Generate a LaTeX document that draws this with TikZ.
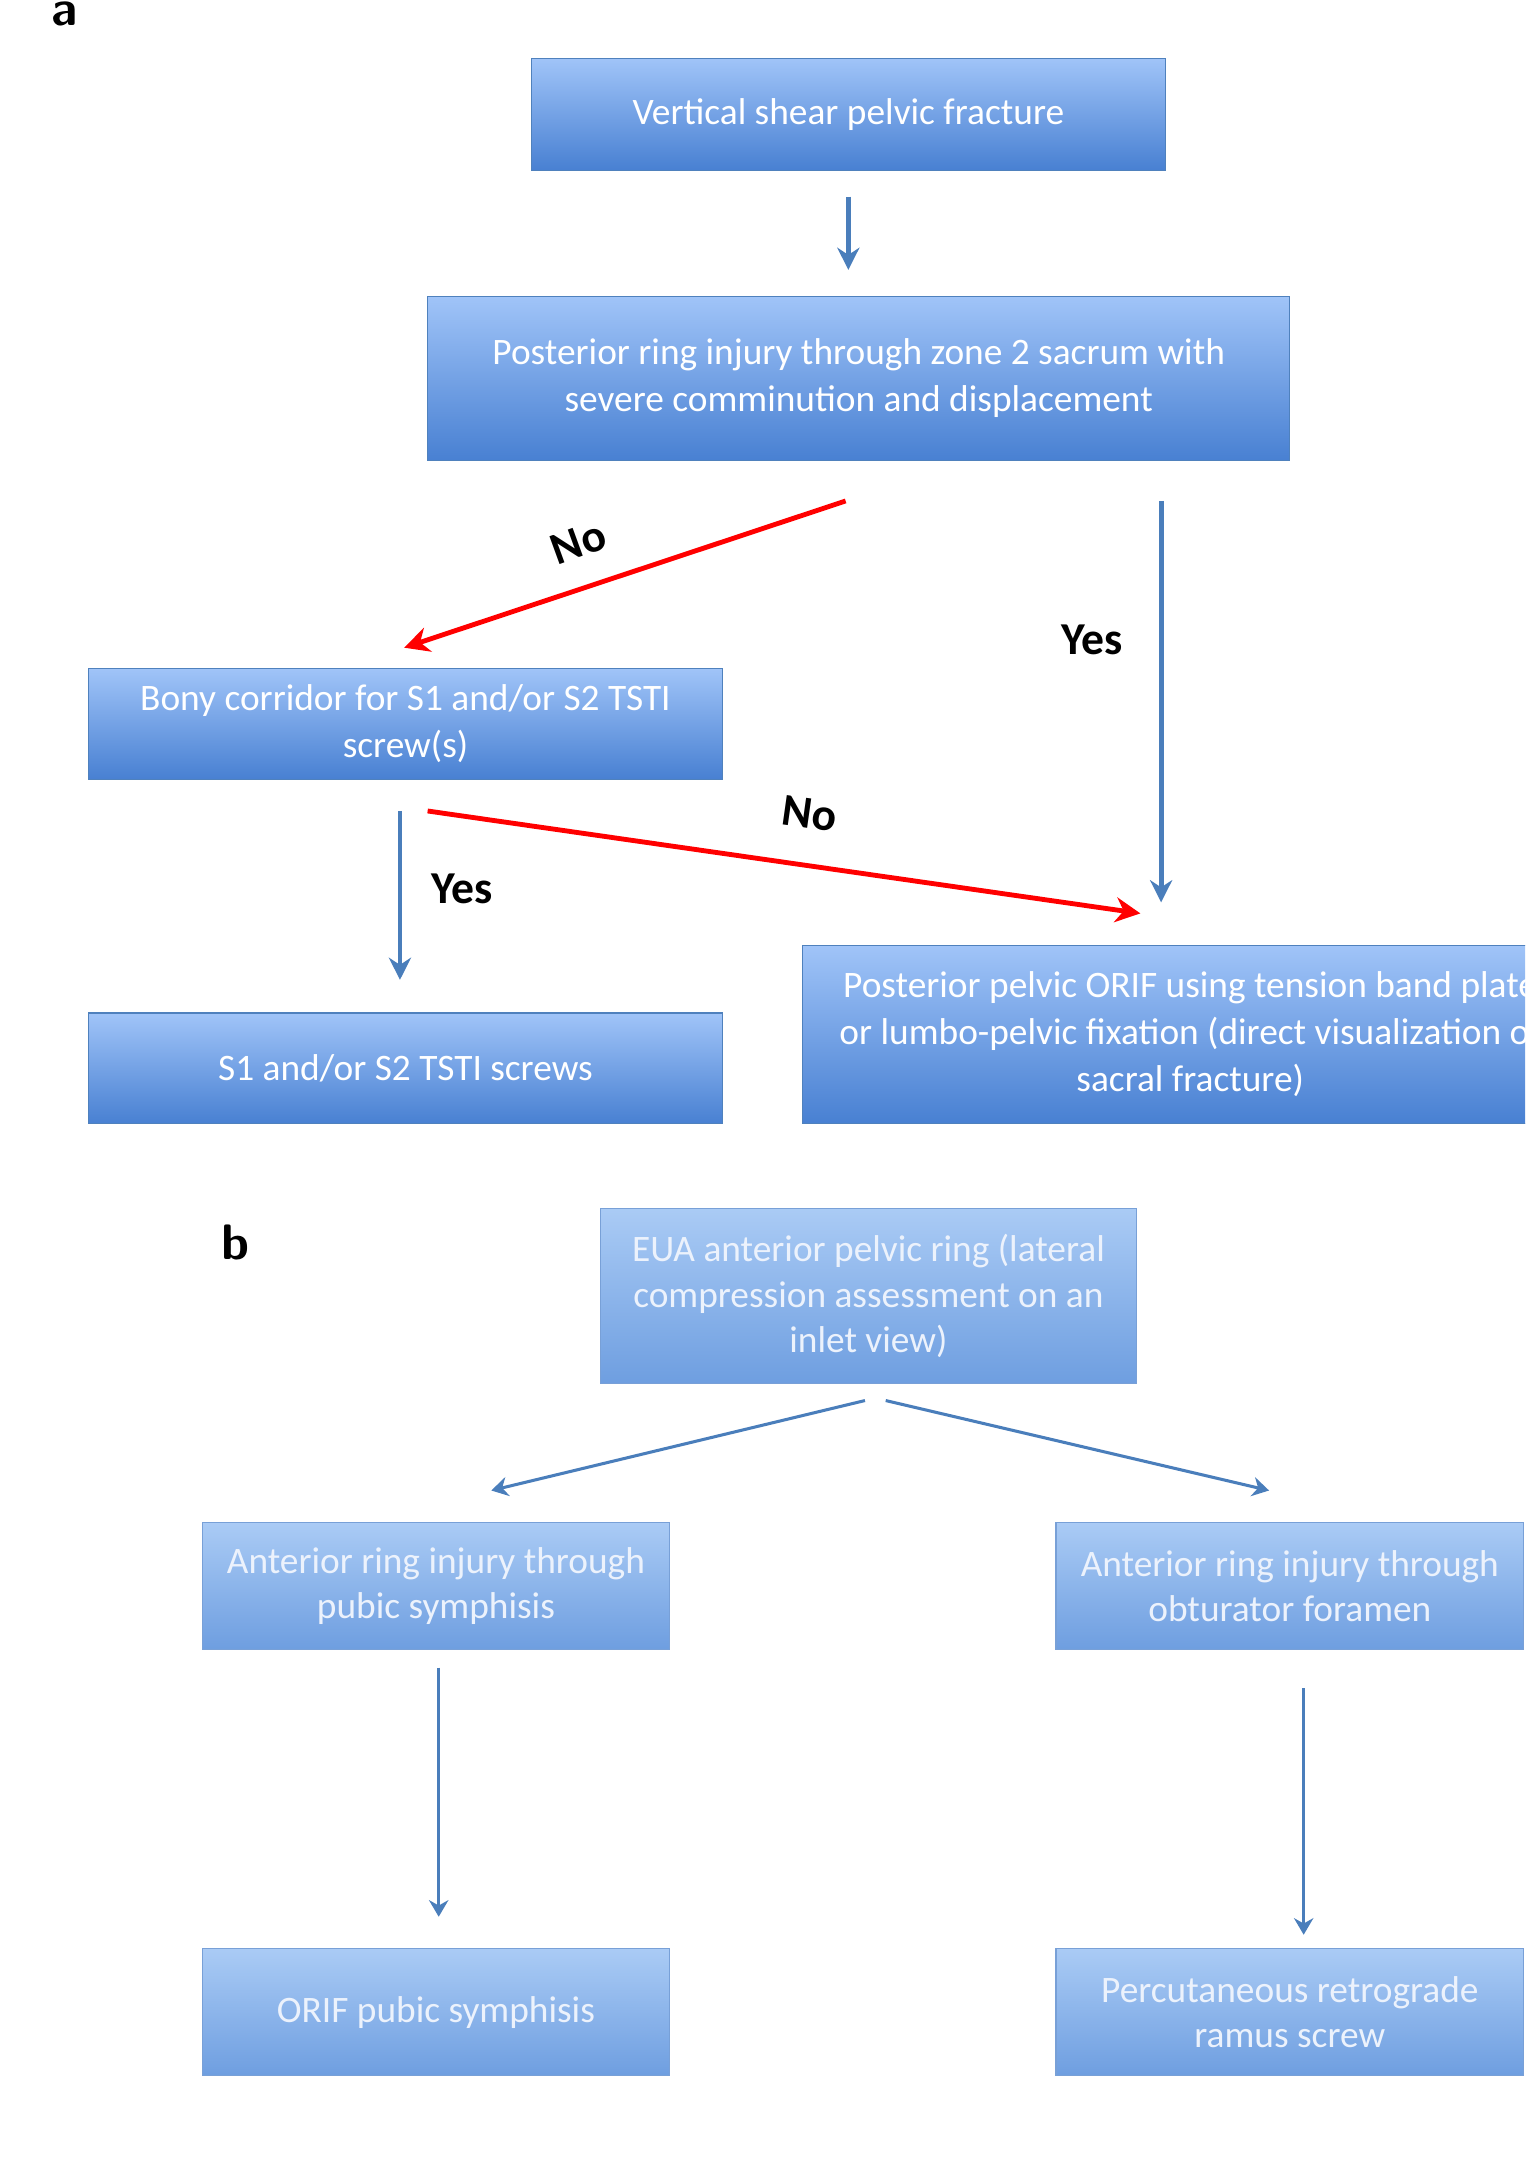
\documentclass[tikz,border=0pt]{standalone}
\usepackage{fontspec}
\setmainfont{Carlito}
\usetikzlibrary{arrows.meta}
\definecolor{bl}{HTML}{4F81BD}
\definecolor{ar}{HTML}{4A7EBB}
\definecolor{atop}{RGB}{160,196,248}
\definecolor{abot}{RGB}{72,128,210}
\definecolor{btop}{RGB}{170,203,245}
\definecolor{bbot}{RGB}{110,158,224}
\definecolor{bbrd}{RGB}{120,160,215}
\definecolor{btxt}{RGB}{236,242,252}
\tikzset{
 boxa/.style={draw=bl, line width=0.8pt, top color=atop, bottom color=abot, text=white, font=\fontsize{27}{34}\selectfont, align=center, inner sep=0pt},
 boxb/.style={draw=bbrd, line width=0.8pt, top color=btop, bottom color=bbot, text=btxt, font=\fontsize{27}{33}\selectfont, align=center, inner sep=0pt},
 barr/.style={draw=ar, line width=3.5pt, -{Stealth[length=16pt,width=16pt]}},
 rarr/.style={draw=red, line width=3.5pt, -{Stealth[length=18pt,width=18pt]}},
 tarr/.style={draw=ar, line width=2.2pt, -{Stealth[length=12pt,width=14pt]}},
 lab/.style={font=\fontsize{33}{36}\selectfont\bfseries},
}
\begin{document}
\begin{tikzpicture}[x=1pt,y=-1pt]
\useasboundingbox (0,0) rectangle (1102,1568);
\clip (0,0) rectangle (1102,1568);
\node[font=\fontsize{36}{36}\selectfont\bfseries\sffamily] (la) at (47,10) {a};
\node[font=\fontsize{36}{36}\selectfont\bfseries\sffamily] (lb) at (170,898) {b};
\node[boxa, minimum width=458pt, minimum height=81pt] (n1) at (613,82.5) {Vertical shear pelvic fracture};
\node[boxa, minimum width=623pt, minimum height=119pt] (n2) at (620.5,273.5) {Posterior ring injury through zone 2 sacrum with\\severe comminution and displacement};
\node[boxa, minimum width=458pt, minimum height=80pt] (n3) at (293,523) {Bony corridor for S1 and/or S2 TSTI\\screw(s)};
\node[boxa, minimum width=458pt, minimum height=80pt] (n4) at (293,772) {S1 and/or S2 TSTI screws};
\node[boxa, minimum width=560pt, minimum height=129pt] (n5) at (860,747.5) {Posterior pelvic ORIF using tension band plate\\or lumbo-pelvic fixation (direct visualization of\\sacral fracture)};
\coordinate (c1) at (613,142); \coordinate (c2) at (613,195);
\draw[barr] (c1) -- (c2);
\coordinate (r1) at (611,362); \coordinate (r2) at (292,468);
\draw[rarr] (r1) -- (r2);
\node[lab, rotate=20] (no1) at (418,392) {No};
\coordinate (y1) at (839,362); \coordinate (y2) at (839,652);
\draw[barr] (y1) -- (y2);
\node[lab] (yes1) at (789,462) {Yes};
\coordinate (r3) at (309,586); \coordinate (r4) at (824,660);
\draw[rarr] (r3) -- (r4);
\node[lab, rotate=-8] (no2) at (585,588) {No};
\coordinate (y3) at (289,586); \coordinate (y4) at (289,708);
\draw[barr] (y3) -- (y4);
\node[lab] (yes2) at (334,642) {Yes};
% b
\node[boxb, minimum width=387pt, minimum height=127pt] (m1) at (627.5,936.5) {EUA anterior pelvic ring (lateral\\compression assessment on an\\inlet view)};
\node[boxb, minimum width=338pt, minimum height=92pt] (m2) at (315,1146) {Anterior ring injury through\\pubic symphisis};
\node[boxb, minimum width=338pt, minimum height=92pt] (m3) at (932,1146) {Anterior ring injury through\\obturator foramen};
\node[boxb, minimum width=338pt, minimum height=92pt] (m4) at (315,1454) {ORIF pubic symphisis};
\node[boxb, minimum width=338pt, minimum height=92pt] (m5) at (932,1454) {Percutaneous retrograde\\ramus screw};
\coordinate (d1) at (625,1012); \coordinate (d2) at (355,1077);
\coordinate (d3) at (640,1012); \coordinate (d4) at (917,1077);
\coordinate (d5) at (317,1205); \coordinate (d6) at (317,1385);
\coordinate (d7) at (942,1220); \coordinate (d8) at (942,1398);
\draw[tarr] (d1) -- (d2);
\draw[tarr] (d3) -- (d4);
\draw[tarr] (d5) -- (d6);
\draw[tarr] (d7) -- (d8);
\end{tikzpicture}
\end{document}
